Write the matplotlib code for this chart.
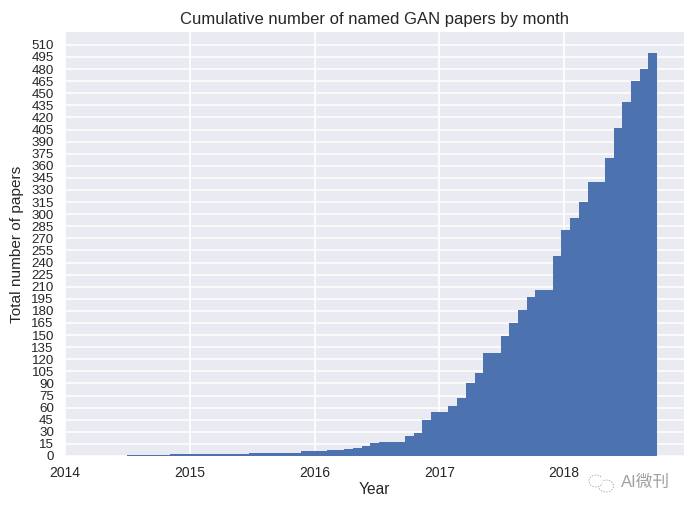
import matplotlib
matplotlib.use("Agg")
import matplotlib.pyplot as plt
from matplotlib.patches import Arc
import numpy as np

plt.rcParams['font.family'] = ['Liberation Sans', 'Noto Sans CJK SC', 'DejaVu Sans']

# cumulative count per bin
papers = [1, 1, 1, 1, 1, 2, 2, 2, 2, 2, 2, 2, 2, 2, 4, 4, 4, 4, 4, 4,
          6, 6, 6, 7, 7, 9, 10, 12, 16, 17, 17, 17, 25, 29, 45, 55, 55,
          62, 72, 90, 103, 128, 128, 149, 165, 181, 197, 206, 206, 248,
          280, 295, 315, 340, 340, 370, 407, 439, 465, 480, 500]
first_bin = 2014.496
last_bin = 2018.744
year_ticks = [2014, 2015, 2016, 2017, 2018]
count_ticks = list(range(0, 525, 15))

edges = np.linspace(first_bin, last_bin, len(papers) + 1)

fig = plt.figure(figsize=(6.93, 5.12), dpi=100)
ax = fig.add_axes([65 / 693, 1 - 456 / 512, 619 / 693, 424 / 512])
ax.set_facecolor("#EAEAF2")
ax.bar(edges[:-1], papers, width=np.diff(edges), align="edge", color="#4C72B0", zorder=3)

ax.set_xlim(2014, 2018.96)
ax.set_ylim(0, 526)
ax.set_xticks(year_ticks)
ax.set_xticklabels([str(y) for y in year_ticks])
ax.set_yticks(count_ticks)
ax.grid(axis="y", color="white", lw=1.1, zorder=1)
ax.grid(axis="x", color="white", lw=1.3, zorder=1)
ax.set_axisbelow(True)
for s in ax.spines.values():
    s.set_visible(False)
ax.tick_params(axis="y", length=0, labelsize=9.6, labelcolor="#262626", pad=8)
ax.tick_params(axis="x", length=0, labelsize=10, labelcolor="#262626", pad=7)

ax.set_title("Cumulative number of named GAN papers by month", fontsize=12, color="#262626", pad=6)
ax.set_xlabel("Year", fontsize=11.2, color="#262626", labelpad=2)
ax.set_ylabel("Total number of papers", fontsize=11.1, color="#262626", labelpad=5)

# watermark
fig.text(621 / 693, 1 - 482 / 512, "AI微刊", fontsize=12, color="#a0a0a0", va="center", ha="left")
for cx, cy, w, h, a0, a1 in [(596, 481, 14, 12, 40, 340), (606, 486, 15, 12, 200, 130)]:
    icon = Arc((cx, 512 - cy), w, h, theta1=a0, theta2=a1, ls=(0, (2, 2)), lw=0.5, color="#8a8a8a")
    icon.set_transform(matplotlib.transforms.IdentityTransform())
    fig.add_artist(icon)

fig.savefig("out.png", dpi=100)
